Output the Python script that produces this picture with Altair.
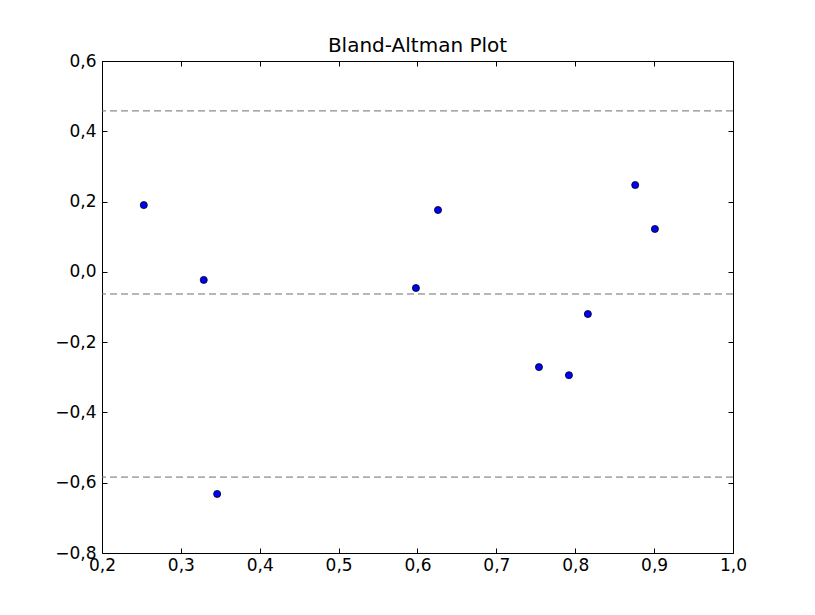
import altair as alt
import pandas as pd

# Data
means = [0.253, 0.329, 0.346, 0.598, 0.626, 0.754, 0.792, 0.816, 0.876, 0.901]
diffs = [0.190, -0.023, -0.632, -0.046, 0.176, -0.271, -0.294, -0.120, 0.247, 0.122]
line_values = [0.458, -0.063, -0.584]  # upper limit, mean difference, lower limit

x_ticks = [0.2, 0.3, 0.4, 0.5, 0.6, 0.7, 0.8, 0.9, 1.0]
y_ticks = [-0.8, -0.6, -0.4, -0.2, 0.0, 0.2, 0.4, 0.6]

df = pd.DataFrame({"mean": means, "diff": diffs})
lines = pd.DataFrame({"y": line_values})

label_expr = "replace(format(datum.value, '.1f'), '.', ',')"
FONT = "DejaVu Sans"
TICK = 5

xscale = alt.Scale(domain=[0.2, 1.0], nice=False, zero=False)
yscale = alt.Scale(domain=[-0.8, 0.6], nice=False, zero=False)

points = alt.Chart(df).mark_circle(
    color="#0000ff", stroke="black", strokeWidth=0.8, size=50, opacity=1
).encode(
    x=alt.X("mean:Q", scale=xscale, title=None,
            axis=alt.Axis(orient="bottom", values=x_ticks, labelExpr=label_expr,
                          offset=-TICK, tickSize=TICK, domain=False, labelPadding=4,
                          labelFlush=False, labelOverlap=False, labelBound=False)),
    y=alt.Y("diff:Q", scale=yscale, title=None,
            axis=alt.Axis(orient="left", values=y_ticks, labelExpr=label_expr,
                          offset=-TICK, tickSize=TICK, domain=False, labelPadding=6,
                          labelFlush=False, labelOverlap=False, labelBound=False)),
)

rules = alt.Chart(lines).mark_rule(
    color="#6e6e6e", strokeWidth=1, strokeDash=[7, 4]
).encode(
    y=alt.Y("y:Q", scale=yscale, axis=None)
)

ghost = alt.Chart(df).mark_circle(opacity=0).encode(
    x=alt.X("mean:Q", scale=xscale, title=None,
            axis=alt.Axis(orient="top", values=x_ticks, labels=False,
                          offset=-TICK, tickSize=TICK, domain=False)),
    y=alt.Y("diff:Q", scale=yscale, title=None,
            axis=alt.Axis(orient="right", values=y_ticks, labels=False,
                          offset=-TICK, tickSize=TICK, domain=False)),
)

chart = alt.layer(rules, points, ghost).resolve_axis(
    x="independent", y="independent"
).properties(
    width=631,
    height=492,
    title=alt.TitleParams("Bland-Altman Plot", font=FONT, fontSize=20,
                          fontWeight="normal", color="black", offset=-4),
    autosize=alt.AutoSizeParams(type="none"),
    padding={"left": 94, "top": 53, "right": 70, "bottom": 40},
).configure_view(
    stroke="black", strokeWidth=1
).configure_axis(
    grid=False, labelFont=FONT, labelFontSize=17, labelColor="black",
    tickColor="black", tickWidth=1
)

chart.save("out.html", embed_options={"renderer": "svg", "actions": False})
